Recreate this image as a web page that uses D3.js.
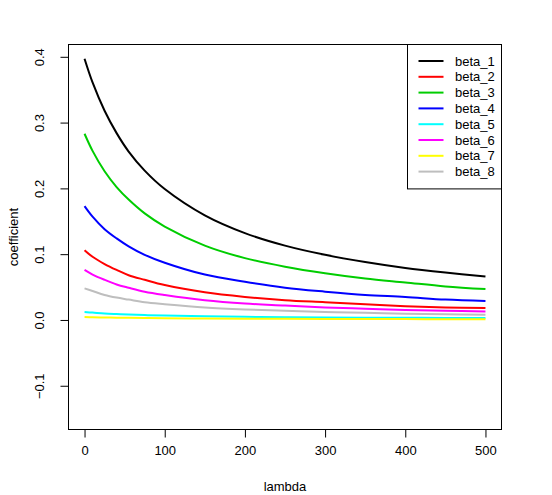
<!DOCTYPE html>
<html>
<head>
<meta charset="utf-8">
<script src="https://cdnjs.cloudflare.com/ajax/libs/d3/7.8.5/d3.min.js"></script>
<style>
    body { margin: 0; background: #fff; }
    svg { display: block; font-family: "Liberation Sans", Arial, sans-serif; }
    .curve { fill: none; stroke-width: 2; }
</style>
</head>
<body>
<svg id="mainFrame"></svg>
<script>
const lambdas = [0, 10, 25, 40, 55, 75, 100, 150, 200, 250, 300, 350, 400, 450, 500]

const beta1 = [0.397, 0.361, 0.318, 0.284, 0.256, 0.227, 0.199, 0.159, 0.132, 0.113, 0.099, 0.088, 0.079, 0.072, 0.066]
const beta2 = [0.106, 0.096, 0.085, 0.076, 0.068, 0.061, 0.053, 0.042, 0.035, 0.030, 0.027, 0.024, 0.021, 0.019, 0.018]
const beta3 = [0.283, 0.257, 0.226, 0.202, 0.183, 0.162, 0.142, 0.113, 0.094, 0.081, 0.071, 0.063, 0.057, 0.051, 0.047]
const beta4 = [0.173, 0.157, 0.138, 0.124, 0.112, 0.099, 0.087, 0.069, 0.058, 0.049, 0.043, 0.038, 0.035, 0.031, 0.029]
const beta5 = [0.012, 0.0112, 0.0099, 0.009, 0.0082, 0.0074, 0.0066, 0.0055, 0.0047, 0.0042, 0.0038, 0.0035, 0.0033, 0.0031, 0.003]
const beta6 = [0.076, 0.069, 0.061, 0.054, 0.049, 0.043, 0.038, 0.030, 0.025, 0.022, 0.019, 0.017, 0.015, 0.014, 0.013]
const beta7 = [0.0045, 0.0042, 0.0038, 0.0035, 0.0032, 0.0029, 0.0026, 0.0022, 0.0019, 0.0017, 0.0015, 0.0014, 0.0013, 0.0012, 0.0011]
const beta8 = [0.048, 0.044, 0.038, 0.034, 0.031, 0.027, 0.024, 0.019, 0.016, 0.014, 0.012, 0.011, 0.0096, 0.0087, 0.008]

const seriesNames = ['beta_1', 'beta_2', 'beta_3', 'beta_4', 'beta_5', 'beta_6', 'beta_7', 'beta_8']
const seriesValues = [beta1, beta2, beta3, beta4, beta5, beta6, beta7, beta8]
const seriesColors = ['#000000', '#ff0000', '#00cd00', '#0000ff', '#00ffff', '#ff00ff', '#ffff00', '#bebebe']

const xTicks = [0, 100, 200, 300, 400, 500]
const yTicks = [-0.1, 0.0, 0.1, 0.2, 0.3, 0.4]

const width = 552
const height = 495

const svg = d3.select('#mainFrame')
    .attr('width', width)
    .attr('height', height)

const margin = {
    top: 44.5,
    right: 50.5,
    bottom: 65.5,
    left: 68.5
}
const ourWidth = width - margin.left - margin.right
const ourHeight = height - margin.top - margin.bottom

const diagramGroup = svg.append('g')
    .attr('transform', `translate(${margin.left},${margin.top})`)

// R pads the data range by 4% on each side
const xScale = d3.scaleLinear()
    .domain([-20, 520])
    .range([0, ourWidth])

const yScale = d3.scaleLinear()
    .domain([-0.1665, 0.4187])
    .range([ourHeight, 0])

/**
 * Axes: ticks only, the box is drawn separately
 */
const xAxis = d3.axisBottom(xScale)
    .tickValues(xTicks)
    .tickSize(8)
    .tickPadding(8)
    .tickFormat(d3.format('d'))

const xAxisGroup = diagramGroup.append('g')
    .attr('transform', `translate(0,${ourHeight})`)
    .call(xAxis)
xAxisGroup.select('.domain').remove()
xAxisGroup.selectAll('text')
    .attr('font-size', 13)
    .attr('fill', '#000')
    .attr('font-family', null)

const yAxis = d3.axisLeft(yScale)
    .tickValues(yTicks)
    .tickSize(8)
    .tickFormat(d => d3.format('.1f')(d).replace('-', '\u2212'))

const yAxisGroup = diagramGroup.append('g')
    .call(yAxis)
yAxisGroup.select('.domain').remove()
yAxisGroup.selectAll('text')
    .attr('font-size', 13)
    .attr('fill', '#000')
    .attr('font-family', null)
    .attr('x', null)
    .attr('dy', null)
    .attr('text-anchor', 'middle')
    .attr('transform', 'translate(-25,0) rotate(-90)')

// plot box
diagramGroup.append('rect')
    .attr('width', ourWidth)
    .attr('height', ourHeight)
    .attr('fill', 'none')
    .attr('stroke', '#000')
    .attr('stroke-width', 1)

// axis titles
svg.append('text')
    .attr('x', margin.left + ourWidth / 2)
    .attr('y', 491)
    .attr('text-anchor', 'middle')
    .attr('font-size', 13)
    .text('lambda')

svg.append('text')
    .attr('transform', `translate(18,${margin.top + ourHeight / 2}) rotate(-90)`)
    .attr('text-anchor', 'middle')
    .attr('font-size', 13)
    .text('coefficient')

/**
 * The curves
 */
const line = d3.line()
    .x(d => xScale(d.lambda))
    .y(d => yScale(d.value))
    .curve(d3.curveCatmullRom.alpha(0.5))

const curveData = seriesValues.map((values, i) => ({
    name: seriesNames[i],
    color: seriesColors[i],
    points: values.map((v, j) => ({ lambda: lambdas[j], value: v }))
}))

diagramGroup.append('g')
    .selectAll('path')
    .data(curveData)
    .join('path')
    .attr('class', 'curve')
    .attr('stroke', d => d.color)
    .attr('d', d => line(d.points))

/**
 * Legend in the top right corner
 */
const legendWidth = 94
const rowHeight = 15.8
const legendGroup = diagramGroup.append('g')
    .attr('transform', `translate(${ourWidth - legendWidth},0)`)

legendGroup.append('rect')
    .attr('width', legendWidth)
    .attr('height', rowHeight * seriesNames.length + 18)
    .attr('fill', '#fff')
    .attr('stroke', '#000')

const legendRows = legendGroup.selectAll('g')
    .data(curveData)
    .join('g')
    .attr('transform', (d, i) => `translate(0,${16.5 + i * rowHeight})`)

legendRows.append('line')
    .attr('x1', 11)
    .attr('x2', 36)
    .attr('stroke', d => d.color)
    .attr('stroke-width', 2)

legendRows.append('text')
    .attr('x', 47.5)
    .attr('dy', '0.35em')
    .attr('font-size', 13)
    .text(d => d.name)
</script>
</body>
</html>
